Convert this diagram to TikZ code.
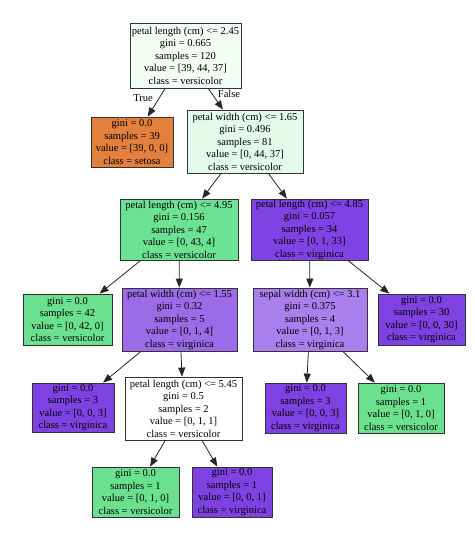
\documentclass[tikz,border=0pt]{standalone}
\usepackage{fontspec}
\setmainfont{Liberation Serif}
\usetikzlibrary{arrows.meta}
\definecolor{cRoot}{HTML}{F3FDF6}
\definecolor{cSet}{HTML}{E3803D}
\definecolor{cNtwo}{HTML}{E2FAEA}
\definecolor{cNthree}{HTML}{6CE294}
\definecolor{cNfour}{HTML}{8043E3}
\definecolor{cVers}{HTML}{6BE190}
\definecolor{cVirg}{HTML}{7E42E2}
\definecolor{cNfive}{HTML}{9C6BE8}
\definecolor{cNsix}{HTML}{A87FEC}
\tikzset{
  tn/.style={draw=black!80, line width=0.8pt, align=center, inner sep=0pt,
    font=\fontsize{10.5}{12.5}\selectfont, text=black},
  edge/.style={-{Triangle[length=9pt,width=7pt]}, line width=0.8pt, draw=black!85},
  lbl/.style={font=\fontsize{10.5}{12}\selectfont, inner sep=0pt}
}
\begin{document}
\begin{tikzpicture}[x=1pt,y=-1pt]
\useasboundingbox (0,0) rectangle (474,534);
\node[tn, fill=cRoot, minimum width=111pt, minimum height=65pt] (root) at (185.5,55.5)
  {petal length (cm) <= 2.45\\gini = 0.665\\samples = 120\\value = [39, 44, 37]\\class = versicolor};
\node[tn, fill=cSet, minimum width=82pt, minimum height=50pt] (setosa) at (132,142)
  {gini = 0.0\\samples = 39\\value = [39, 0, 0]\\class = setosa};
\node[tn, fill=cNtwo, minimum width=116pt, minimum height=63pt] (n2) at (245,141.5)
  {petal width (cm) <= 1.65\\gini = 0.496\\samples = 81\\value = [0, 44, 37]\\class = versicolor};
\node[tn, fill=cNthree, minimum width=118pt, minimum height=61pt] (n3) at (179,229.5)
  {petal length (cm) <= 4.95\\gini = 0.156\\samples = 47\\value = [0, 43, 4]\\class = versicolor};
\node[tn, fill=cNfour, minimum width=117pt, minimum height=61pt] (n4) at (309.5,229.5)
  {petal length (cm) <= 4.85\\gini = 0.057\\samples = 34\\value = [0, 1, 33]\\class = virginica};
\node[tn, fill=cVers, minimum width=89pt, minimum height=51pt] (l42) at (67.5,319.5)
  {gini = 0.0\\samples = 42\\value = [0, 42, 0]\\class = versicolor};
\node[tn, fill=cNfive, minimum width=115pt, minimum height=63pt] (n5) at (179.5,319.5)
  {petal width (cm) <= 1.55\\gini = 0.32\\samples = 5\\value = [0, 1, 4]\\class = virginica};
\node[tn, fill=cNsix, minimum width=114pt, minimum height=63pt] (n6) at (310,319.5)
  {sepal width (cm) <= 3.1\\gini = 0.375\\samples = 4\\value = [0, 1, 3]\\class = virginica};
\node[tn, fill=cVirg, minimum width=87pt, minimum height=51pt] (l30) at (421.5,319.5)
  {gini = 0.0\\samples = 30\\value = [0, 0, 30]\\class = virginica};
\node[tn, fill=cVirg, minimum width=82pt, minimum height=49pt] (l3a) at (73,407.5)
  {gini = 0.0\\samples = 3\\value = [0, 0, 3]\\class = virginica};
\node[tn, fill=white, minimum width=117pt, minimum height=63pt] (n7) at (183.5,408.5)
  {petal length (cm) <= 5.45\\gini = 0.5\\samples = 2\\value = [0, 1, 1]\\class = versicolor};
\node[tn, fill=cVirg, minimum width=81pt, minimum height=50pt] (l3b) at (305.5,408)
  {gini = 0.0\\samples = 3\\value = [0, 0, 3]\\class = virginica};
\node[tn, fill=cVers, minimum width=86pt, minimum height=50pt] (l1v) at (401,408)
  {gini = 0.0\\samples = 1\\value = [0, 1, 0]\\class = versicolor};
\node[tn, fill=cVers, minimum width=87pt, minimum height=50pt] (l1a) at (135.5,492)
  {gini = 0.0\\samples = 1\\value = [0, 1, 0]\\class = versicolor};
\node[tn, fill=cVirg, minimum width=80pt, minimum height=50pt] (l1b) at (232,492)
  {gini = 0.0\\samples = 1\\value = [0, 0, 1]\\class = virginica};
\draw[edge] (root) -- (setosa);
\draw[edge] (root) -- (n2);
\draw[edge] (n2) -- (n3);
\draw[edge] (n2) -- (n4);
\draw[edge] (n3) -- (l42);
\draw[edge] (n3) -- (n5);
\draw[edge] (n4) -- (n6);
\draw[edge] (n4) -- (l30);
\draw[edge] (n5) -- (l3a);
\draw[edge] (n5) -- (n7);
\draw[edge] (n6) -- (l3b);
\draw[edge] (n6) -- (l1v);
\draw[edge] (n7) -- (l1a);
\draw[edge] (n7) -- (l1b);
\node[lbl] (tlab) at (143,98) {True};
\node[lbl] (flab) at (229,94) {False};
\end{tikzpicture}
\end{document}
